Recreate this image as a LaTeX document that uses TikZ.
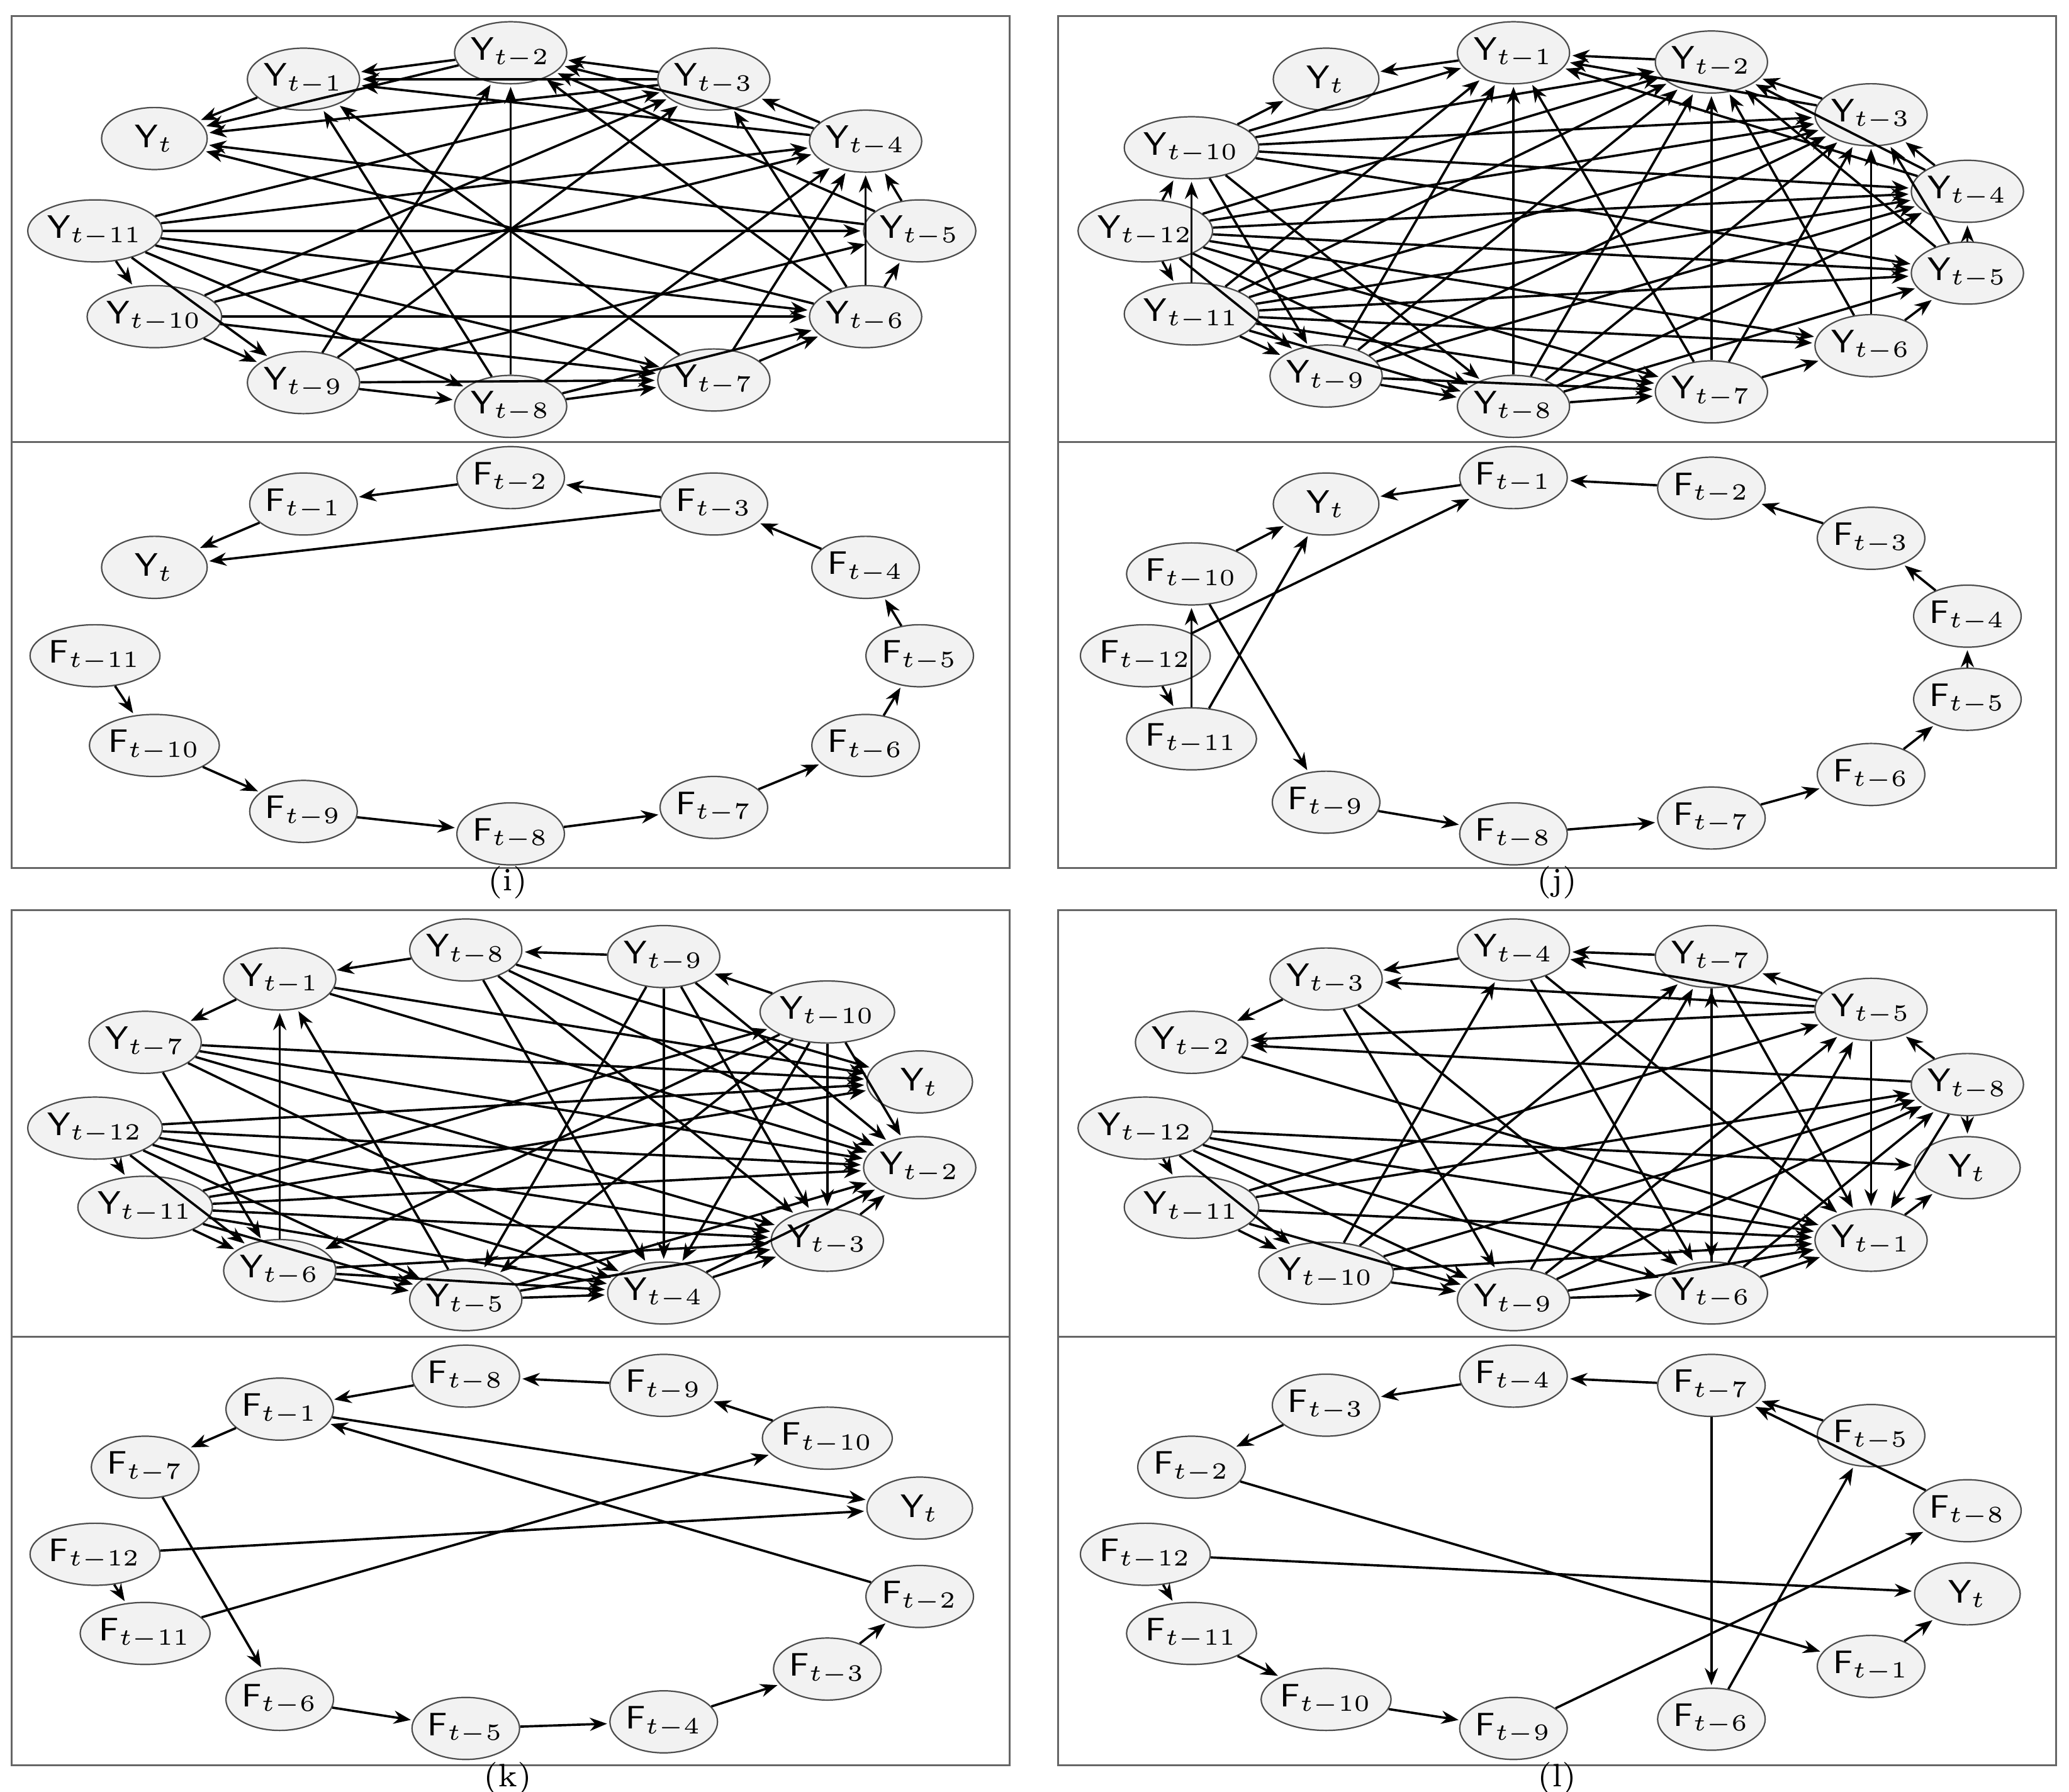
\documentclass[tikz,border=0pt]{standalone}
\usetikzlibrary{arrows.meta,shapes.geometric}
\tikzset{
 nd/.style={ellipse,draw=black!70,line width=0.3pt,fill=black!5,minimum width=0.8cm,minimum height=0.47cm,inner sep=0pt,font=\fontsize{7.5}{8}\selectfont},
 ed/.style={-{Stealth[length=1.3mm,width=1mm]},line width=0.5pt,shorten >=0.5pt},
 frame/.style={draw=black!60,line width=0.4pt},
 captxt/.style={font=\fontsize{7}{8}\selectfont}
}
\newcommand\Y[1]{$\mathsf{Y}_{t-#1}$}
\newcommand\F[1]{$\mathsf{F}_{t-#1}$}
\newcommand\YT{$\mathsf{Y}_{t}$}
\begin{document}
\begin{tikzpicture}[x=0.01cm,y=-0.01cm]
\useasboundingbox (0,0) rectangle (1568,1358);
% frames
\draw[frame] (9,12) rectangle (765,658); \draw[frame] (9,335) -- (765,335);
\draw[frame] (802,12) rectangle (1558,658); \draw[frame] (802,335) -- (1558,335);
\draw[frame] (9,690) rectangle (765,1338); \draw[frame] (9,1013) -- (765,1013);
\draw[frame] (802,690) rectangle (1558,1338); \draw[frame] (802,1013) -- (1558,1013);
\node[captxt] (ci) at (385,669) {(i)};
\node[captxt] (cj) at (1180,669) {(j)};
\node[captxt] (ck) at (385,1348) {(k)};
\node[captxt] (cl) at (1180,1348) {(l)};
% ---------- (i) top
\node[nd] (iY1) at (230,60) {\Y1};
\node[nd] (iY2) at (387,40) {\Y2};
\node[nd] (iY3) at (541,60) {\Y3};
\node[nd] (iYt) at (117,105) {\YT};
\node[nd] (iY4) at (656,107) {\Y4};
\node[nd] (iY11) at (72,175) {\Y{11}};
\node[nd] (iY5) at (697,175) {\Y5};
\node[nd] (iY10) at (117,240) {\Y{10}};
\node[nd] (iY6) at (656,240) {\Y6};
\node[nd] (iY9) at (230,290) {\Y9};
\node[nd] (iY7) at (541,288) {\Y7};
\node[nd] (iY8) at (387,308) {\Y8};
\foreach \a/\b in {iY2/iY1,iY3/iY2,iY1/iYt,iY2/iYt,iY3/iYt,iY3/iY1,iY4/iY3,iY4/iY2,iY4/iY1,iY5/iY4,iY5/iYt,iY5/iY2,iY6/iY5,iY6/iY4,iY6/iY3,iY6/iY2,iY6/iYt,iY7/iY6,iY7/iY4,iY7/iY1,iY8/iY7,iY8/iY2,iY8/iY1,iY8/iY4,iY8/iY6,iY9/iY8,iY9/iY7,iY9/iY2,iY9/iY3,iY9/iY5,iY10/iY9,iY10/iY7,iY10/iY6,iY10/iY4,iY10/iY3,iY11/iY10,iY11/iY9,iY11/iY8,iY11/iY7,iY11/iY6,iY11/iY5,iY11/iY4,iY11/iY3}
 \draw[ed] (\a) -- (\b);
% (i) bottom
\node[nd] (iF1) at (230,382) {\F1};
\node[nd] (iF2) at (387,362) {\F2};
\node[nd] (iF3) at (541,382) {\F3};
\node[nd] (iFt) at (117,430) {\YT};
\node[nd] (iF4) at (656,430) {\F4};
\node[nd] (iF11) at (72,497) {\F{11}};
\node[nd] (iF5) at (697,497) {\F5};
\node[nd] (iF10) at (117,565) {\F{10}};
\node[nd] (iF6) at (656,565) {\F6};
\node[nd] (iF9) at (230,615) {\F9};
\node[nd] (iF7) at (541,612) {\F7};
\node[nd] (iF8) at (387,632) {\F8};
\foreach \a/\b in {iF2/iF1,iF1/iFt,iF3/iF2,iF3/iFt,iF4/iF3,iF5/iF4,iF6/iF5,iF7/iF6,iF8/iF7,iF9/iF8,iF10/iF9,iF11/iF10}
 \draw[ed] (\a) -- (\b);
% ---------- (j) top
\node[nd] (jYt) at (1005,60) {\YT};
\node[nd] (jY1) at (1147,40) {\Y1};
\node[nd] (jY2) at (1297,47) {\Y2};
\node[nd] (jY3) at (1418,87) {\Y3};
\node[nd] (jY10) at (903,112) {\Y{10}};
\node[nd] (jY4) at (1491,145) {\Y4};
\node[nd] (jY12) at (868,175) {\Y{12}};
\node[nd] (jY5) at (1491,207) {\Y5};
\node[nd] (jY11) at (903,238) {\Y{11}};
\node[nd] (jY6) at (1418,262) {\Y6};
\node[nd] (jY9) at (1005,285) {\Y9};
\node[nd] (jY7) at (1297,297) {\Y7};
\node[nd] (jY8) at (1147,308) {\Y8};
\foreach \a/\b in {jY1/jYt,jY2/jY1,jY3/jY2,jY3/jY1,jY4/jY3,jY4/jY2,jY4/jY1,jY5/jY4,jY5/jY3,jY5/jY2,jY6/jY5,jY6/jY3,jY6/jY2,jY7/jY6,jY7/jY2,jY7/jY1,jY7/jY3,jY8/jY7,jY8/jY1,jY8/jY2,jY8/jY3,jY8/jY4,jY8/jY5,jY9/jY8,jY9/jY7,jY9/jY1,jY9/jY2,jY9/jY3,jY9/jY4,jY10/jYt,jY10/jY1,jY10/jY2,jY10/jY3,jY10/jY4,jY10/jY5,jY10/jY9,jY10/jY8,jY11/jY10,jY11/jY9,jY11/jY8,jY11/jY7,jY11/jY6,jY11/jY5,jY11/jY4,jY11/jY3,jY11/jY2,jY11/jY1,jY12/jY11,jY12/jY10,jY12/jY5,jY12/jY4,jY12/jY3,jY12/jY2,jY12/jY6,jY12/jY7,jY12/jY8,jY12/jY9}
 \draw[ed] (\a) -- (\b);
% (j) bottom
\node[nd] (jFt) at (1005,382) {\YT};
\node[nd] (jF1) at (1147,362) {\F1};
\node[nd] (jF2) at (1297,370) {\F2};
\node[nd] (jF3) at (1418,408) {\F3};
\node[nd] (jF10) at (903,435) {\F{10}};
\node[nd] (jF4) at (1491,467) {\F4};
\node[nd] (jF12) at (868,497) {\F{12}};
\node[nd] (jF5) at (1491,530) {\F5};
\node[nd] (jF11) at (903,560) {\F{11}};
\node[nd] (jF6) at (1418,587) {\F6};
\node[nd] (jF9) at (1005,608) {\F9};
\node[nd] (jF7) at (1297,620) {\F7};
\node[nd] (jF8) at (1147,632) {\F8};
\foreach \a/\b in {jF1/jFt,jF2/jF1,jF3/jF2,jF4/jF3,jF5/jF4,jF6/jF5,jF7/jF6,jF8/jF7,jF9/jF8,jF10/jFt,jF10/jF9,jF12/jF1,jF12/jF11,jF11/jF10,jF11/jFt}
 \draw[ed] (\a) -- (\b);
% ---------- (k) top
\node[nd] (kY1) at (212,742) {\Y1};
\node[nd] (kY8) at (353,720) {\Y8};
\node[nd] (kY9) at (503,725) {\Y9};
\node[nd] (kY7) at (110,790) {\Y7};
\node[nd] (kY10) at (627,767) {\Y{10}};
\node[nd] (kYt) at (697,820) {\YT};
\node[nd] (kY12) at (72,855) {\Y{12}};
\node[nd] (kY2) at (697,885) {\Y2};
\node[nd] (kY11) at (110,915) {\Y{11}};
\node[nd] (kY3) at (627,940) {\Y3};
\node[nd] (kY6) at (212,963) {\Y6};
\node[nd] (kY4) at (503,980) {\Y4};
\node[nd] (kY5) at (353,985) {\Y5};
\foreach \a/\b in {kY8/kY1,kY9/kY8,kY10/kY9,kY1/kY7,kY7/kY6,kY12/kY11,kY11/kY6,kY11/kY5,kY11/kY4,kY11/kY3,kY11/kY2,kY11/kYt,kY11/kY10,kY12/kY2,kY12/kYt,kY12/kY3,kY12/kY4,kY12/kY5,kY12/kY6,kY6/kY1,kY5/kY1,kY6/kY5,kY5/kY4,kY4/kY3,kY3/kY2,kY6/kY3,kY6/kY4,kY5/kY3,kY5/kY2,kY4/kY2,kY9/kY5,kY9/kY4,kY9/kY3,kY9/kY2,kY10/kY5,kY10/kY4,kY10/kY3,kY10/kY2,kY10/kY6,kY8/kY4,kY8/kY3,kY8/kY2,kY1/kYt,kY1/kY2,kY7/kYt,kY7/kY2,kY7/kY3,kY7/kY4,kY8/kYt}
 \draw[ed] (\a) -- (\b);
% (k) bottom
\node[nd] (kF1) at (212,1068) {\F1};
\node[nd] (kF8) at (353,1043) {\F8};
\node[nd] (kF9) at (503,1050) {\F9};
\node[nd] (kF7) at (110,1112) {\F7};
\node[nd] (kF10) at (627,1090) {\F{10}};
\node[nd] (kFt) at (697,1143) {\YT};
\node[nd] (kF12) at (72,1178) {\F{12}};
\node[nd] (kF2) at (697,1210) {\F2};
\node[nd] (kF11) at (110,1238) {\F{11}};
\node[nd] (kF3) at (627,1265) {\F3};
\node[nd] (kF6) at (212,1288) {\F6};
\node[nd] (kF4) at (503,1305) {\F4};
\node[nd] (kF5) at (353,1310) {\F5};
\foreach \a/\b in {kF9/kF8,kF10/kF9,kF8/kF1,kF1/kF7,kF1/kFt,kF2/kF1,kF12/kFt,kF12/kF11,kF11/kF10,kF7/kF6,kF6/kF5,kF5/kF4,kF4/kF3,kF3/kF2}
 \draw[ed] (\a) -- (\b);
% ---------- (l) top
\node[nd] (lY4) at (1147,720) {\Y4};
\node[nd] (lY7) at (1297,725) {\Y7};
\node[nd] (lY3) at (1005,742) {\Y3};
\node[nd] (lY5) at (1418,765) {\Y5};
\node[nd] (lY2) at (903,790) {\Y2};
\node[nd] (lY8) at (1491,822) {\Y8};
\node[nd] (lY12) at (868,855) {\Y{12}};
\node[nd] (lYt) at (1491,885) {\YT};
\node[nd] (lY11) at (903,915) {\Y{11}};
\node[nd] (lY1) at (1418,940) {\Y1};
\node[nd] (lY10) at (1005,965) {\Y{10}};
\node[nd] (lY6) at (1297,980) {\Y6};
\node[nd] (lY9) at (1147,985) {\Y9};
\foreach \a/\b in {lY4/lY3,lY7/lY4,lY5/lY7,lY5/lY4,lY5/lY3,lY5/lY2,lY3/lY2,lY8/lY5,lY8/lY2,lY8/lY1,lY1/lYt,lY8/lYt,lY7/lY6,lY7/lY1,lY5/lY1,lY4/lY1,lY4/lY6,lY3/lY6,lY3/lY9,lY12/lY11,lY12/lY1,lY12/lYt,lY12/lY9,lY12/lY10,lY12/lY6,lY11/lY10,lY11/lY9,lY11/lY8,lY11/lY5,lY11/lY1,lY10/lY4,lY10/lY7,lY10/lY9,lY10/lY1,lY10/lY8,lY9/lY6,lY9/lY7,lY9/lY1,lY9/lY8,lY9/lY5,lY6/lY1,lY6/lY5,lY6/lY8,lY6/lY7,lY2/lY1}
 \draw[ed] (\a) -- (\b);
% (l) bottom
\node[nd] (lF4) at (1147,1043) {\F4};
\node[nd] (lF7) at (1297,1050) {\F7};
\node[nd] (lF3) at (1005,1065) {\F3};
\node[nd] (lF5) at (1418,1088) {\F5};
\node[nd] (lF2) at (903,1112) {\F2};
\node[nd] (lF8) at (1491,1145) {\F8};
\node[nd] (lF12) at (868,1178) {\F{12}};
\node[nd] (lFt) at (1491,1208) {\YT};
\node[nd] (lF11) at (903,1238) {\F{11}};
\node[nd] (lF1) at (1418,1263) {\F1};
\node[nd] (lF10) at (1005,1288) {\F{10}};
\node[nd] (lF6) at (1297,1303) {\F6};
\node[nd] (lF9) at (1147,1310) {\F9};
\foreach \a/\b in {lF4/lF3,lF3/lF2,lF7/lF4,lF5/lF7,lF8/lF7,lF7/lF6,lF6/lF5,lF9/lF8,lF2/lF1,lF12/lFt,lF12/lF11,lF11/lF10,lF10/lF9,lF1/lFt}
 \draw[ed] (\a) -- (\b);
\end{tikzpicture}
\end{document}
